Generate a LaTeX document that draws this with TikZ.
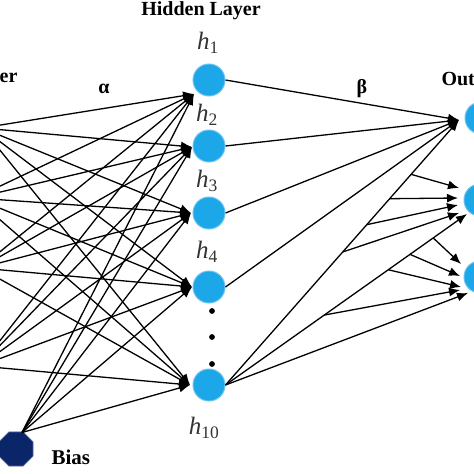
\documentclass[tikz,border=0pt]{standalone}
\usepackage{fontspec}
\setmainfont{Liberation Serif}
\usetikzlibrary{arrows.meta,shapes.geometric,calc}
\definecolor{nodeblue}{RGB}{27,167,232}
\definecolor{nodeedge}{RGB}{110,195,240}
\definecolor{biasblue}{RGB}{10,38,105}
\begin{document}
\begin{tikzpicture}[x=1pt,y=-1pt,
  neuron/.style={circle,fill=nodeblue,draw=nodeedge,line width=1pt,minimum size=32pt,inner sep=0pt},
  biasnode/.style={regular polygon,regular polygon sides=8,fill=biasblue,draw=biasblue!70,line width=0.8pt,minimum size=37pt,inner sep=0pt},
  link/.style={line width=1.3pt,-{Latex[length=11pt,width=9pt]}},
  lab/.style={font=\fontsize{20}{20}\selectfont\bfseries},
  hlab/.style={text=black!80,font=\fontsize{25}{25}\selectfont\itshape,inner sep=0pt}]
\useasboundingbox (0,0) rectangle (474,474);
\fill[white] (0,0) rectangle (474,474);
\clip (0,0) rectangle (474,474);

% hidden layer
\node[neuron] (h1) at (209,80) {};
\node[neuron] (h2) at (209,146) {};
\node[neuron] (h3) at (209,213) {};
\node[neuron] (h4) at (209,287) {};
\node[neuron] (h10) at (209,385) {};
\foreach \y in {311,337,364} \fill (212,\y) circle (2.9pt);

% output layer
\node[neuron] (o1) at (481,118) {};
\node[neuron] (o2) at (480,200) {};
\node[neuron] (o3) at (480,277) {};

% bias
\node[biasnode] (bias) at (16,449) {};
\coordinate (bt) at ($(bias.north)+(6,1)$);

% inputs (outside the visible crop)
\coordinate (x1) at (-18,128);
\coordinate (x2) at (-25,198);
\coordinate (x3) at (-20,268);
\coordinate (x4) at (-20,366);

% arrow entry points at hidden nodes
\coordinate (h1in) at ($(h1)+(-15,14)$);
\coordinate (h2in) at ($(h2)+(-17,1)$);
\coordinate (h3in) at ($(h3)+(-18,0)$);
\coordinate (h4in) at ($(h4)+(-17,0)$);
\coordinate (h10in) at ($(h10)+(-19,0)$);

\foreach \s in {x1,x2,x3,x4,bt}
  \foreach \t in {h1in,h2in,h3in,h4in,h10in}
    \draw[link] (\s) -- (\t);

% hidden -> output
\coordinate (o1in) at (459,120);
\coordinate (o2c) at (467,214);
\coordinate (o3d) at (468,293);
\foreach \h in {h1,h2,h3,h4,h10}
  \draw[link] (\h.east) -- (o1in);
\draw[link] (h10.east) -- (o2c);
\draw[link] (h10.east) -- (o3d);

% branches to second output
\coordinate (b1) at ($(h10.east)!0.795!(o1in)$);
\coordinate (b2) at ($(h10.east)!0.703!(o1in)$);
\coordinate (b3) at ($(h10.east)!0.605!(o1in)$);
\coordinate (b4) at ($(h10.east)!0.502!(o1in)$);
\draw[link] (b1) -- (459,188);
\draw[link] (b2) -- (458,198);
\draw[link] (b3) -- (458,205);
\draw[link] (b4) -- (459,213);

% branches to third output
\coordinate (c1) at ($(h10.east)!0.86!(o2c)$);
\coordinate (c2) at ($(h10.east)!0.764!(o2c)$);
\coordinate (c3) at ($(h10.east)!0.674!(o2c)$);
\coordinate (c4) at ($(h10.east)!0.409!(o2c)$);
\draw[link] (c1) -- (461,264);
\draw[link] (c2) -- (460,276);
\draw[link] (c3) -- (461,287);
\draw[link] (c4) -- (460,290);

% labels
\node[lab,anchor=base] (hl) at (201,15) {Hidden Layer};
\node[lab,anchor=base east] (il) at (21,82) {Input Layer};
\node[lab,anchor=base west] (ol) at (438,85) {Output Layer};
\node[lab,anchor=base] (alpha) at (104,93) {α};
\node[lab,anchor=base] (beta) at (362,93) {β};
\node[anchor=base west,font=\fontsize{21}{21}\selectfont\bfseries] (bl) at (48,464) {Bias};

\node[hlab] (l1) at (208,43) {h\textsubscript{\upshape 1}};
\node[hlab] (l2) at (207,115) {h\textsubscript{\upshape 2}};
\node[hlab] (l3) at (207,181) {h\textsubscript{\upshape 3}};
\node[hlab] (l4) at (207,252) {h\textsubscript{\upshape 4}};
\node[hlab] (l10) at (204,428) {h\textsubscript{\upshape 10}};
\end{tikzpicture}
\end{document}
